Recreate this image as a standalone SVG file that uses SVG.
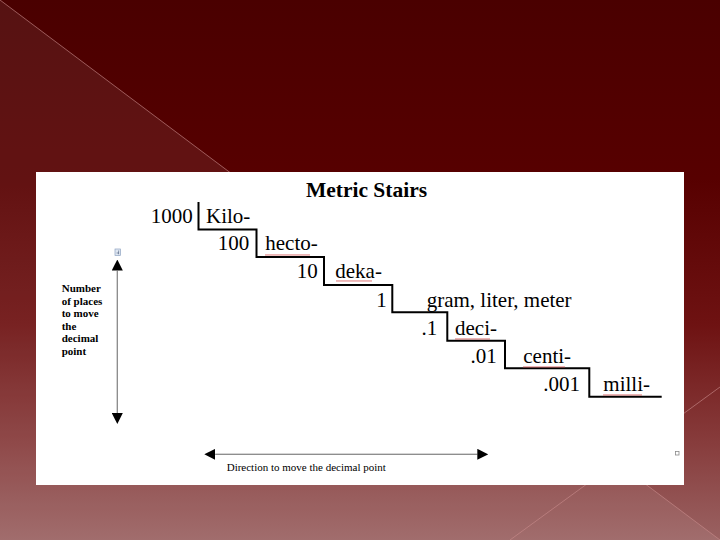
<svg xmlns="http://www.w3.org/2000/svg" width="720" height="540" viewBox="0 0 720 540">
  <defs>
    <linearGradient id="bg" x1="0" y1="0" x2="0" y2="1">
      <stop offset="0" stop-color="#4a0000"/>
      <stop offset="0.33" stop-color="#570000"/>
      <stop offset="0.6" stop-color="#6e1212"/>
      <stop offset="0.8" stop-color="#853838"/>
      <stop offset="1" stop-color="#9a6262"/>
    </linearGradient>
    <pattern id="squig" patternUnits="userSpaceOnUse" width="2" height="2">
      <path d="M0 1.8 L1 0.3 L2 1.8" fill="none" stroke="#d03a3a" stroke-width="0.6"/>
    </pattern>
    <marker id="ah" viewBox="0 0 10 10" refX="0" refY="5" markerWidth="11" markerHeight="11" markerUnits="userSpaceOnUse" orient="auto">
      <path d="M0 0 L10 5 L0 10 Z" fill="#000"/>
    </marker>
    <style>
      .num { font-size: 21px; fill: #000; text-anchor: end; }
      .lbl { font-size: 21px; fill: #000; }
      .side { font-size: 11px; font-weight: bold; fill: #000; }
      .cap { font-size: 11px; fill: #000; }
      .title { font-size: 21.5px; font-weight: bold; fill: #000; text-anchor: middle; }
      .stair { fill: none; stroke: #000; stroke-width: 2; }
      .axis { stroke: #8a8a8a; stroke-width: 1; fill: none; }
      .deco { stroke: #c88a8a; stroke-width: 0.8; stroke-opacity: 0.8; fill: none; }
    </style>
  </defs>

  <!-- background -->
  <rect x="0" y="0" width="720" height="540" fill="url(#bg)"/>
  <polygon points="0,0 720,540 0,540" fill="#ffffff" fill-opacity="0.07"/>
  <line class="deco" x1="0" y1="0" x2="720" y2="540"/>
  <line class="deco" x1="720" y1="387" x2="510" y2="540"/>

  <!-- white panel -->
  <rect x="36" y="172" width="648" height="313" fill="#ffffff"/>

  <g font-family="'Liberation Serif', 'DejaVu Serif', serif">
  <g id="title">
    <text class="title" x="366.5" y="196.5">Metric Stairs</text>
  </g>

  <g id="stairs">
    <path class="stair" d="M198.5 202 V229.5 H256.5 V257 H324 V285 H392.3 V312.3 H447.3 V340.7 H505 V368.3 H589.3 V396.7 H661.7"/>
  </g>

  <g id="step-kilo">
    <text class="num" x="192.7" y="222.5">1000</text>
    <text class="lbl" x="206" y="222.5">Kilo-</text>
  </g>
  <g id="step-hecto">
    <text class="num" x="249.3" y="250">100</text>
    <text class="lbl" x="265.3" y="250">hecto-</text>
    <rect x="265" y="254" width="45" height="2" fill="url(#squig)"/>
  </g>
  <g id="step-deka">
    <text class="num" x="317.7" y="278.3">10</text>
    <text class="lbl" x="335.3" y="278.3">deka-</text>
    <rect x="336" y="280" width="36" height="2" fill="url(#squig)"/>
  </g>
  <g id="step-base">
    <text class="num" x="386.7" y="306.7">1</text>
    <text class="lbl" x="426.7" y="306.7">gram, liter, meter</text>
  </g>
  <g id="step-deci">
    <text class="num" x="437.3" y="335">.1</text>
    <text class="lbl" x="455" y="335">deci-</text>
    <rect x="455" y="338" width="35" height="2" fill="url(#squig)"/>
  </g>
  <g id="step-centi">
    <text class="num" x="496.7" y="362.7">.01</text>
    <text class="lbl" x="523.3" y="362.7">centi-</text>
    <rect x="523" y="366" width="42" height="2" fill="url(#squig)"/>
  </g>
  <g id="step-milli">
    <text class="num" x="580" y="390.7">.001</text>
    <text class="lbl" x="603.3" y="390.7">milli-</text>
    <rect x="603" y="394" width="39" height="2" fill="url(#squig)"/>
  </g>

  <g id="side-label">
    <text class="side" x="61.7" y="292">Number</text>
    <text class="side" x="61.7" y="304.6">of places</text>
    <text class="side" x="61.7" y="317">to move</text>
    <text class="side" x="61.7" y="329.5">the</text>
    <text class="side" x="61.7" y="342">decimal</text>
    <text class="side" x="61.7" y="354.7">point</text>
  </g>

  <g id="bottom-label">
    <text class="cap" x="226.7" y="470.7">Direction to move the decimal point</text>
  </g>
  </g>

  <g id="connectors">
    <line class="axis" x1="117.3" y1="413" x2="117.3" y2="270.5" marker-end="url(#ah)"/>
    <line class="axis" x1="117.3" y1="270.5" x2="117.3" y2="413" marker-end="url(#ah)"/>
    <line class="axis" x1="477.3" y1="454.3" x2="215.3" y2="454.3" marker-end="url(#ah)"/>
    <line class="axis" x1="215.3" y1="454.3" x2="477.3" y2="454.3" marker-end="url(#ah)"/>
  </g>

  <g id="anchor-icon">
    <rect x="115" y="249" width="5.5" height="6.5" fill="#dfe7f2" stroke="#8fa3c2" stroke-width="0.7"/>
    <path d="M118.6 250.5 V254.3 M116.6 253 H119" stroke="#4a5a78" stroke-width="0.6" fill="none"/>
  </g>
  <g id="handle">
    <rect x="675.5" y="451.5" width="3.5" height="3.5" fill="#ffffff" stroke="#8a8a8a" stroke-width="0.8"/>
  </g>
</svg>
